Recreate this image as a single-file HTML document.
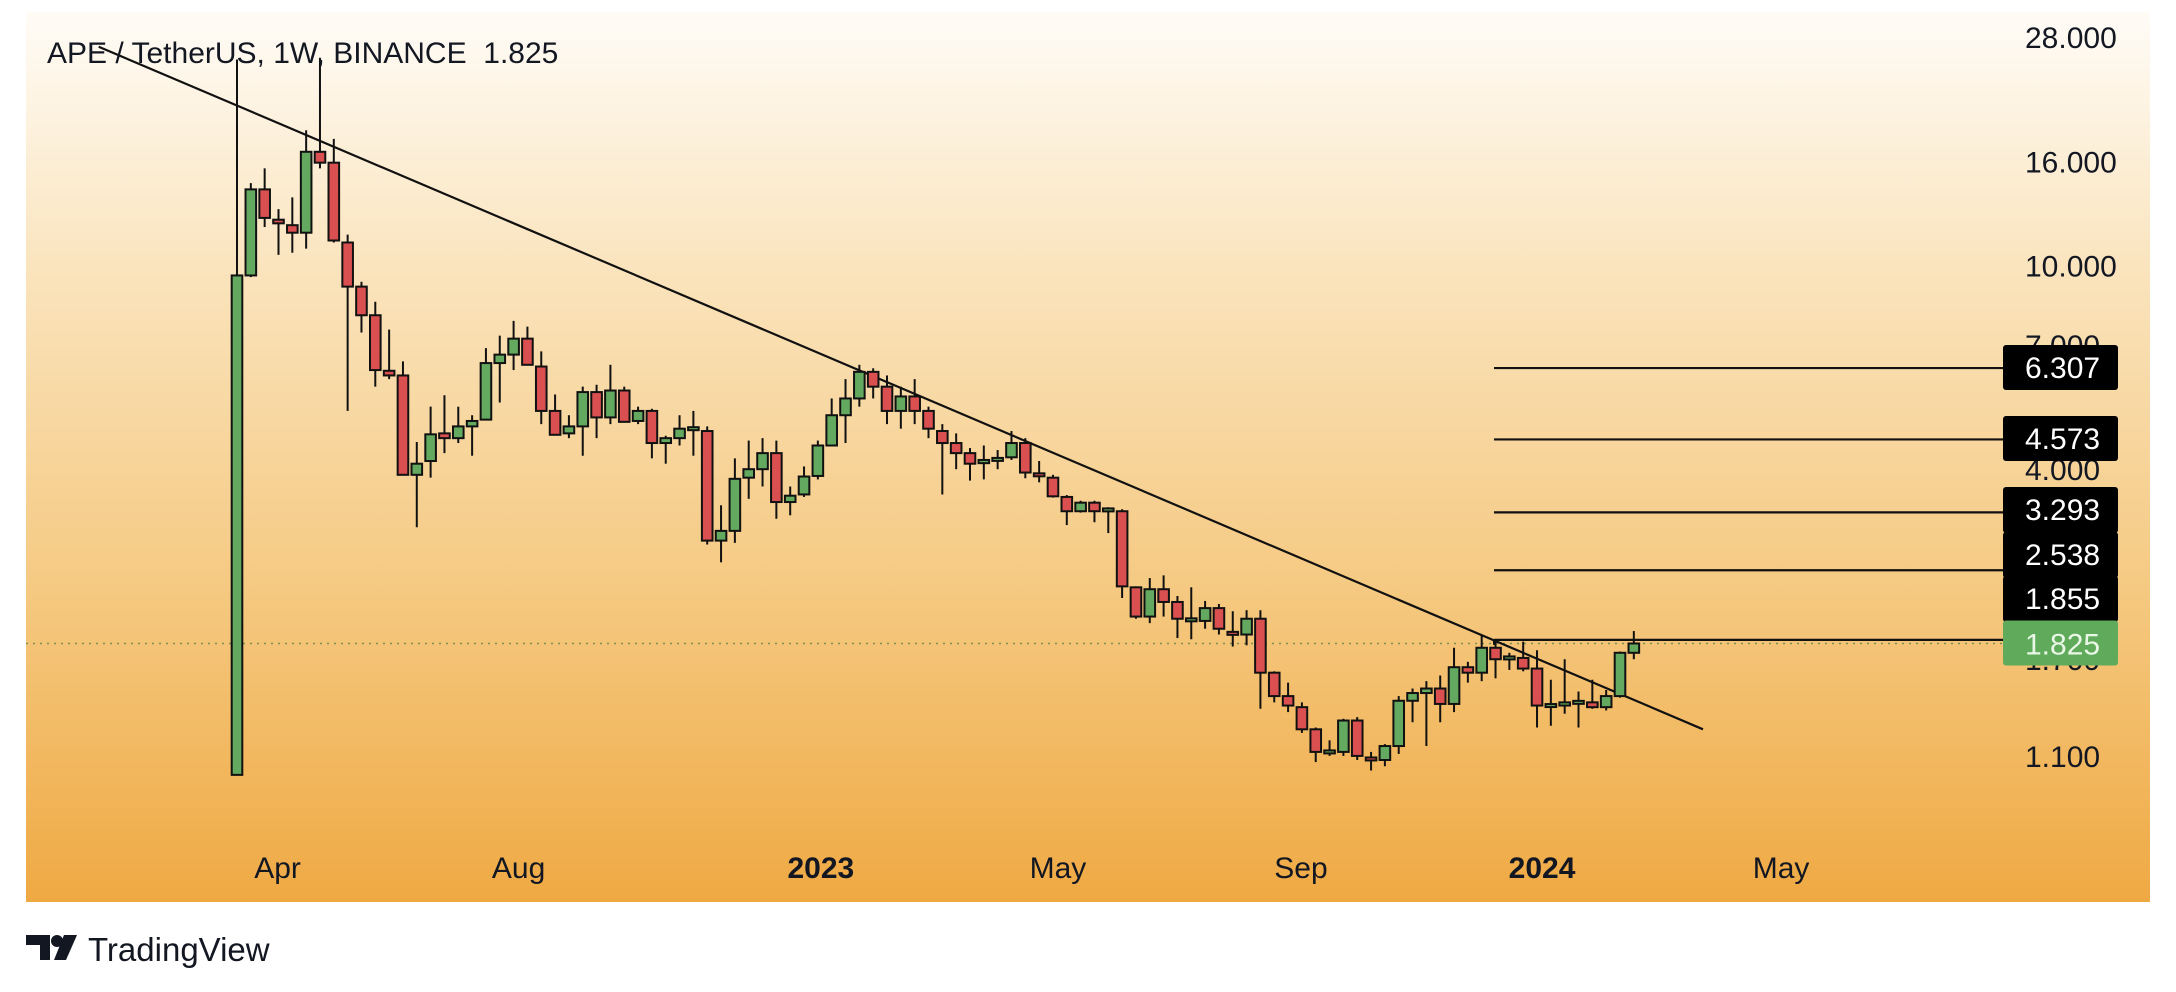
<!DOCTYPE html>
<html><head><meta charset="utf-8"><title>APE / TetherUS 1W</title>
<style>
html,body{margin:0;padding:0;background:#fff;}
svg{display:block;font-family:"Liberation Sans",sans-serif;}
</style></head>
<body>
<svg id="chart" width="2176" height="992" viewBox="0 0 2176 992" xmlns="http://www.w3.org/2000/svg">
<defs>
<linearGradient id="bg" x1="0" y1="0" x2="0" y2="1">
<stop offset="0" stop-color="#fffcf7"/>
<stop offset="0.3" stop-color="#fae3bb"/>
<stop offset="0.65" stop-color="#f5c981"/>
<stop offset="1" stop-color="#efa943"/>
</linearGradient>
</defs>
<rect x="26" y="12" width="2124" height="890" fill="url(#bg)"/>
<g id="ticks"></g>
<g id="times"></g>
<g id="lines"></g>
<g id="candles"></g>
<g id="labels"></g>
<text x="47" y="63" font-size="30" fill="#131722">APE / TetherUS, 1W, BINANCE &#160;1.825</text>
<g>
<path d="M26 935 H50 V960 H40 V945 H26 Z M64 935 H77 L66 960 H54 Z" fill="#131722"/>
<circle cx="57" cy="941" r="6" fill="#131722"/>
<text x="88" y="961" font-size="33" fill="#131722">TradingView</text>
</g>
</svg>
<script>
const startDate = "2022-03-14";
const opens = [1.01,9.57,14.1,12.3,12.0,11.6,16.7,15.9,11.1,9.1,8.0,6.23,6.1,3.9,4.15,4.7,4.6,4.85,5.0,6.45,6.7,7.2,6.35,5.2,4.7,4.85,5.66,5.05,5.7,4.97,5.2,4.5,4.6,4.8,4.75,2.9,3.03,3.85,4.0,4.3,3.45,3.57,3.88,4.45,5.1,5.5,6.2,5.8,5.2,5.55,5.2,4.75,4.5,4.3,4.11,4.18,4.22,4.5,3.92,3.85,3.53,3.31,3.44,3.33,3.31,2.35,2.06,2.33,2.2,2.03,2.02,2.14,1.92,1.9,2.04,1.6,1.44,1.37,1.24,1.12,1.12,1.29,1.09,1.08,1.15,1.41,1.46,1.49,1.39,1.64,1.60,1.79,1.71,1.71,1.63,1.38,1.38,1.40,1.40,1.37,1.44,1.75];
const highs = [25.3,14.5,15.5,12.9,13.6,18.4,25.5,17.7,11.5,9.3,8.5,7.5,6.5,4.52,5.3,5.58,5.3,5.1,6.9,7.3,7.8,7.6,6.8,5.6,5.1,5.8,5.85,6.4,5.8,5.3,5.25,4.65,5.1,5.2,4.85,3.4,4.2,4.55,4.6,4.55,3.7,4.05,4.55,5.5,6.0,6.4,6.3,6.1,5.8,6.0,5.3,4.9,4.7,4.4,4.45,4.36,4.75,4.6,4.15,3.9,3.56,3.47,3.47,3.37,3.34,2.36,2.45,2.48,2.26,2.35,2.21,2.18,2.11,2.12,2.12,1.61,1.53,1.40,1.25,1.18,1.30,1.31,1.12,1.16,1.44,1.49,1.54,1.58,1.79,1.68,1.89,1.86,1.75,1.84,1.77,1.55,1.70,1.47,1.55,1.48,1.76,1.93];
const lows = [1.01,9.5,11.9,10.5,10.6,10.8,15.5,11.1,5.2,7.4,5.8,6.0,3.9,3.08,3.85,4.3,4.5,4.25,5.0,5.4,6.25,6.4,4.9,4.66,4.6,4.25,4.6,4.9,4.95,4.9,4.2,4.1,4.45,4.25,2.85,2.63,2.87,3.5,3.7,3.2,3.25,3.53,3.82,4.45,4.5,5.3,5.5,4.9,4.8,4.9,4.6,3.57,4.0,3.8,3.82,4.0,4.17,3.84,3.77,3.52,3.11,3.29,3.15,3.0,2.24,2.04,2.0,2.06,1.87,1.86,1.95,1.9,1.8,1.81,1.36,1.40,1.34,1.22,1.07,1.10,1.10,1.08,1.03,1.05,1.11,1.28,1.15,1.28,1.34,1.53,1.54,1.56,1.62,1.61,1.25,1.26,1.33,1.25,1.36,1.35,1.43,1.70];
const closes = [9.57,14.1,12.4,12.1,11.6,16.7,15.9,11.2,9.1,8.0,6.25,6.1,3.9,4.1,4.68,4.6,4.85,4.97,6.45,6.7,7.2,6.4,5.2,4.67,4.85,5.66,5.05,5.7,4.95,5.2,4.5,4.6,4.8,4.8,2.9,3.03,3.83,4.0,4.3,3.45,3.55,3.87,4.45,5.1,5.5,6.2,5.8,5.2,5.55,5.2,4.8,4.5,4.3,4.1,4.17,4.18,4.5,3.94,3.88,3.54,3.31,3.44,3.31,3.33,2.36,2.06,2.33,2.2,2.04,2.03,2.14,1.95,1.9,2.04,1.6,1.44,1.38,1.24,1.12,1.12,1.29,1.10,1.08,1.15,1.41,1.46,1.49,1.39,1.64,1.60,1.79,1.70,1.71,1.63,1.38,1.38,1.40,1.40,1.37,1.44,1.75,1.825];
const tickValues = [28, 16, 10, 7, 4, 1.7, 1.1];
const tickLabels = ["28.000","16.000","10.000","7.000","4.000","1.700","1.100"];
const timeLabels = ["Apr","Aug","2023","May","Sep","2024","May"];
const timeDates = ["2022-04-01","2022-08-01","2023-01-01","2023-05-01","2023-09-01","2024-01-01","2024-05-01"];
const timeBold = [false,false,true,false,false,true,false];
const levelValues = [6.307, 4.573, 3.293, 2.538, 1.855];
const levelLabels = ["6.307","4.573","3.293","2.538","1.855"];
const lastPrice = 1.825;
const trendPrices = [26.8, 1.24];
const trendDates = ["2022-01-03","2024-03-25"];

const NS = "http://www.w3.org/2000/svg";
const Y0 = 37, PXLN = 222.1, TOPP = 28;
function yOf(p){ return Y0 + (Math.log(TOPP) - Math.log(p)) * PXLN; }
const X0 = 237, WEEK = 13.83;
function xOfIndex(i){ return X0 + i * WEEK; }
function xOfDate(d){ const ms = new Date(d) - new Date(startDate); return X0 + ms / (7*86400000) * WEEK; }
function mk(tag, attrs, parent){ const e = document.createElementNS(NS, tag); for (const k in attrs) e.setAttribute(k, attrs[k]); parent.appendChild(e); return e; }

const gT = document.getElementById("ticks");
tickValues.forEach((v, i) => {
  const t = mk("text", {x: 2025, y: yOf(v) + 11, "font-size": 30, fill: "#131722"}, gT);
  
  
  t.textContent = tickLabels[i];
});
const gX = document.getElementById("times");
timeLabels.forEach((s, i) => {
  const t = mk("text", {x: xOfDate(timeDates[i]) + 5, y: 878, "font-size": 30, fill: "#131722", "text-anchor": "middle", "font-weight": timeBold[i] ? "bold" : "normal"}, gX);
  
  
  t.textContent = s;
});
const gL = document.getElementById("lines");
const dl = mk("line", {x1: 26, x2: 2003, y1: yOf(lastPrice), y2: yOf(lastPrice), stroke: "#7c8f4e", "stroke-width": 1.5, "stroke-dasharray": "2 5"}, gL);


levelValues.forEach((v) => {
  const l = mk("line", {x1: 1494, x2: 2003, y1: yOf(v), y2: yOf(v), stroke: "#111", "stroke-width": 2.2}, gL);
  
  
});
const tk = mk("line", {x1: 1494, x2: 1494, y1: yOf(levelValues[4]), y2: yOf(levelValues[4]) + 5, stroke: "#111", "stroke-width": 2}, gL);


const tl = mk("line", {x1: xOfDate(trendDates[0]), y1: yOf(trendPrices[0]), x2: xOfDate(trendDates[1]), y2: yOf(trendPrices[1]), stroke: "#111", "stroke-width": 2.2}, gL);



const gC = document.getElementById("candles");
opens.forEach((o, i) => {
  const c = closes[i], h = highs[i], l = lows[i];
  const x = xOfIndex(i);
  const up = c >= o;
  const g = mk("g", {}, gC);
  
  
  const w = mk("line", {x1: x, x2: x, y1: yOf(h), y2: yOf(l), stroke: "#111", "stroke-width": 2}, g);
  
  
  let yt = yOf(Math.max(o, c)), yb = yOf(Math.min(o, c));
  if (yb - yt < 3) { const m = (yt + yb) / 2; yt = m - 1.5; yb = m + 1.5; }
  const b = mk("rect", {x: x - 5.3, y: yt, width: 10.6, height: yb - yt, fill: up ? "#63a95f" : "#da5050", stroke: "#111", "stroke-width": 2}, g);
  
  
});

const gB = document.getElementById("labels");
const boxTops = [345, 416, 487, 532, 576];
levelLabels.forEach((s, i) => {
  const r = mk("rect", {x: 2003, y: boxTops[i], width: 115, height: i >= 2 ? 46 : 45, rx: 3, fill: "#000"}, gB);
  
  
  const t = mk("text", {x: 2025, y: boxTops[i] + 33, "font-size": 30, fill: "#fff"}, gB);
  
  
  t.textContent = s;
});
const gr = mk("rect", {x: 2003, y: yOf(lastPrice) - 23, width: 115, height: 45, rx: 3, fill: "#5fab5b"}, gB);


const gt = mk("text", {x: 2025, y: yOf(lastPrice) + 11, "font-size": 30, fill: "#eaf7e6"}, gB);


gt.textContent = lastPrice.toFixed(3);
</script>
</body></html>
